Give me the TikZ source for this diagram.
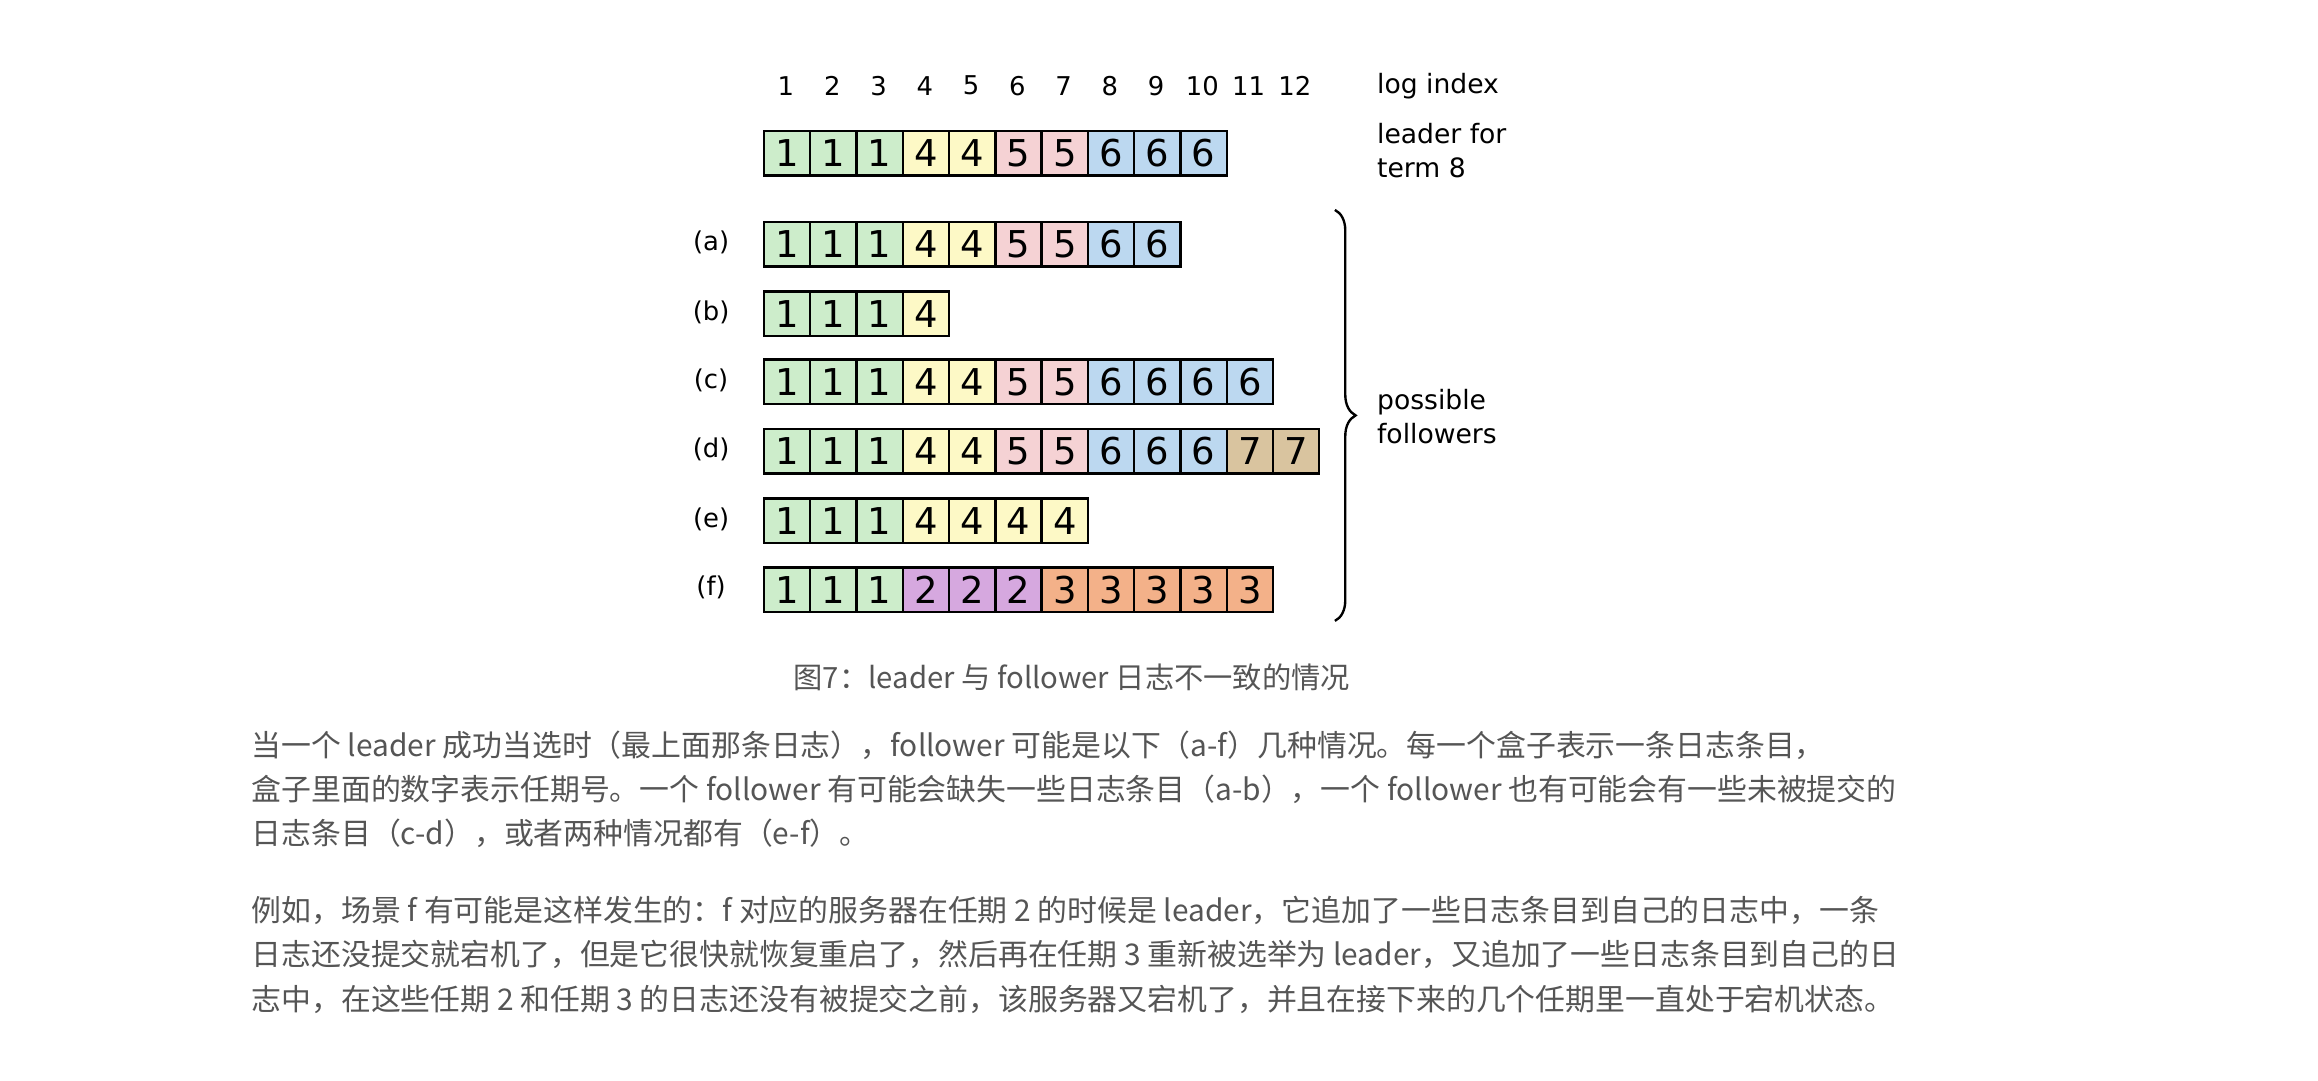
\documentclass[tikz,border=0pt]{standalone}
\usepackage{fontspec}
\setmainfont{DejaVu Sans}
\newfontfamily\cjk{Noto Sans CJK SC}
\usetikzlibrary{decorations.pathreplacing}
\definecolor{cg}{HTML}{CDEDCB}
\definecolor{cy}{HTML}{FDF9C6}
\definecolor{cp}{HTML}{F5D2D4}
\definecolor{cb}{HTML}{BCD8F0}
\definecolor{ct}{HTML}{D9C49F}
\definecolor{cv}{HTML}{D6A8DF}
\definecolor{co}{HTML}{F3B189}
\definecolor{txt}{HTML}{555555}
\tikzset{
 cell/.style={draw=black,line width=1.6pt,minimum width=31.3pt,minimum height=30pt,inner sep=0pt,anchor=north west,font=\fontsize{25}{25}\selectfont},
 lbl/.style={font=\fontsize{18}{23}\selectfont,anchor=west,align=left},
 para/.style={font=\cjk\fontsize{20.2}{30}\selectfont,text=txt,anchor=north west,align=left,inner sep=0pt}
}
\begin{document}
\begin{tikzpicture}[x=1pt,y=1pt]
\useasboundingbox (0,0) rectangle (1568,-730.7);
\fill[white] (0,0) rectangle (1568,-730.7);
\foreach \n in {1,...,12} \node[font=\fontsize{17.5}{17.5}\selectfont] (idx\n) at (516+31.3*\n-15.65,-58) {\n};
\node[lbl] (li) at (928,-58) {log index};
\node[lbl] (lt) at (928,-102) {leader for\\term 8};
\def\rowcells#1#2#3{%
 \foreach \c/\v [count=\i] in {#3} {
   \node[cell,fill=\c] (#1\i) at (516+31.3*\i-31.3,-#2) {\v};
 }}
\rowcells{L}{88}{cg/1,cg/1,cg/1,cy/4,cy/4,cp/5,cp/5,cb/6,cb/6,cb/6}
\rowcells{A}{149.5}{cg/1,cg/1,cg/1,cy/4,cy/4,cp/5,cp/5,cb/6,cb/6}
\rowcells{B}{196.5}{cg/1,cg/1,cg/1,cy/4}
\rowcells{C}{242.5}{cg/1,cg/1,cg/1,cy/4,cy/4,cp/5,cp/5,cb/6,cb/6,cb/6,cb/6}
\rowcells{D}{289.5}{cg/1,cg/1,cg/1,cy/4,cy/4,cp/5,cp/5,cb/6,cb/6,cb/6,ct/7,ct/7}
\rowcells{E}{336.5}{cg/1,cg/1,cg/1,cy/4,cy/4,cy/4,cy/4}
\rowcells{F}{383}{cg/1,cg/1,cg/1,cv/2,cv/2,cv/2,co/3,co/3,co/3,co/3,co/3}
\foreach \r/\t/\y in {A/a/164,B/b/211,C/c/257,D/d/304,E/e/351,F/f/397}
  \node[font=\fontsize{17.5}{17.5}\selectfont] (lab\r) at (481,-\y) {(\t)};
\coordinate (bt) at (903,-142);
\coordinate (bb) at (903,-420);
\draw[line width=1.6pt,decorate,decoration={brace,amplitude=14pt}] (bt) -- (bb);
\node[lbl] (pf) at (928,-282) {possible\\followers};
\node[font=\cjk\fontsize{19.8}{22}\selectfont,text=txt] (cap) at (725,-458) {图7：leader 与 follower 日志不一致的情况};
\node[para] (p1) at (170,-494) {当一个 leader 成功当选时（最上面那条日志），follower 可能是以下（a-f）几种情况。每一个盒子表示一条日志条目，\\盒子里面的数字表示任期号。一个 follower 有可能会缺失一些日志条目（a-b），一个 follower 也有可能会有一些未被提交的\\日志条目（c-d），或者两种情况都有（e-f）。};
\node[para] (p2) at (170,-606) {例如，场景 f 有可能是这样发生的：f 对应的服务器在任期 2 的时候是 leader，它追加了一些日志条目到自己的日志中，一条\\日志还没提交就宕机了，但是它很快就恢复重启了，然后再在任期 3 重新被选举为 leader，又追加了一些日志条目到自己的日\\志中，在这些任期 2 和任期 3 的日志还没有被提交之前，该服务器又宕机了，并且在接下来的几个任期里一直处于宕机状态。};
\end{tikzpicture}
\end{document}
